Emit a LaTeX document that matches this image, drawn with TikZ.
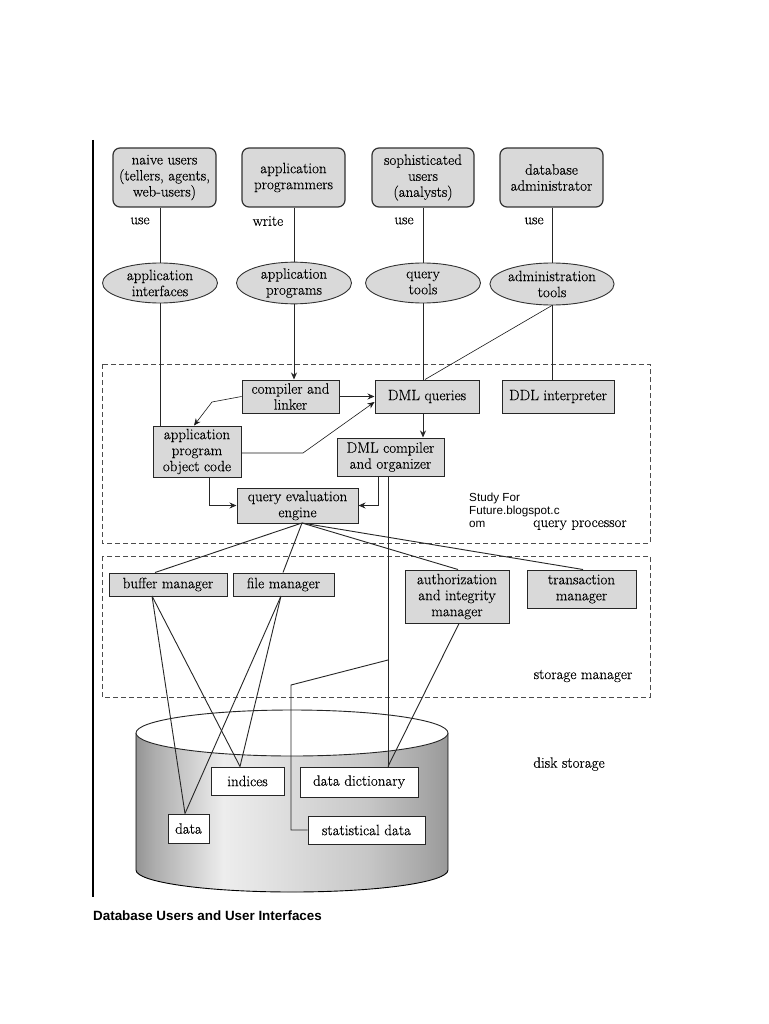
\documentclass[tikz,border=0pt]{standalone}
\usepackage{fontspec}
\setmainfont{Latin Modern Roman}[FakeBold=0.3]
\setsansfont{Liberation Sans}
\usetikzlibrary{shapes.geometric,arrows.meta}
\pgfdeclarehorizontalshading{cylsh}{100bp}{color(0bp)=(black!42); color(25bp)=(black!42); color(28bp)=(black!32); color(39bp)=(black!7); color(47bp)=(black!12); color(62bp)=(black!22); color(71bp)=(black!34); color(75bp)=(black!40); color(100bp)=(black!40)}
\tikzset{
  base/.style={font=\fontsize{15}{16}\selectfont, align=center, inner sep=1pt},
  user/.style={base, draw=black!80, line width=1.2pt, rounded corners=7pt, fill=black!15},
  tool/.style={base, ellipse, draw=black!80, line width=0.9pt, fill=black!15, inner sep=0pt},
  box/.style={base, rectangle, draw=black!85, line width=1pt, fill=black!15},
  store/.style={base, rectangle, draw=black!85, line width=1pt, fill=white},
  lbl/.style={font=\fontsize{15}{16}\selectfont, inner sep=0pt},
  wmark/.style={anchor=base west, inner sep=0pt, font=\sffamily\fontsize{11.7}{13.3}\selectfont},
  conn/.style={draw=black!85, line width=0.9pt},
  fine/.style={draw=black!90, line width=0.6pt},
  arr/.style={-{Stealth[length=7pt,width=6pt]}},
  region/.style={draw=black!70, line width=0.7pt, dash pattern=on 5pt off 3pt}
}
\begin{document}
\begin{tikzpicture}[x=1pt,y=1pt]
\fill[white] (0,0) rectangle (768,-1024);
\useasboundingbox (0,0) rectangle (768,-1024);

% left rule
\draw[line width=1.2pt] (93,-140) -- (93,-897);

% users
\node[user, minimum width=103pt, minimum height=59pt] (naive) at (164.5,-177.5) {naive users\\(tellers, agents,\\web-users)};
\node[user, minimum width=103pt, minimum height=59pt] (appprog) at (293.5,-177.5) {application\\programmers};
\node[user, minimum width=102pt, minimum height=59pt] (soph) at (423,-177.5) {sophisticated\\users\\(analysts)};
\node[user, minimum width=103pt, minimum height=59pt] (dba) at (551.5,-177.5) {database\\administrator};

% tools
\node[tool, minimum width=115pt, minimum height=40pt] (ai) at (160,-283) {application\\interfaces};
\node[tool, minimum width=115pt, minimum height=40pt] (ap) at (294,-283) {application\\programs};
\node[tool, minimum width=115pt, minimum height=40pt] (qt) at (423,-283) {query\\tools};
\node[tool, minimum width=117pt, minimum height=42pt] (at) at (552,-284) {administration\\tools};

\node[lbl] (use1) at (140,-221) {use};
\node[lbl] (write1) at (268,-221) {write};
\node[lbl] (use2) at (404,-221) {use};
\node[lbl] (use3) at (534,-221) {use};

% regions
\draw[region] (102,-364) rectangle (650,-543);
\draw[region] (102,-556) rectangle (650,-697);

% query processor
\node[box, minimum width=97pt, minimum height=33pt] (cl) at (290.5,-396.5) {compiler and\\linker};
\node[box, minimum width=104pt, minimum height=33pt] (dq) at (427,-396.5) {DML queries};
\node[box, minimum width=112pt, minimum height=33pt] (ddl) at (558,-396.5) {DDL interpreter};
\node[box, minimum width=88pt, minimum height=51pt] (apoc) at (197,-451.5) {application\\program\\object code};
\node[box, minimum width=107pt, minimum height=38pt] (dmlc) at (390.5,-457) {DML compiler\\and organizer};
\node[box, minimum width=121pt, minimum height=35pt] (qe) at (297.5,-505.5) {query evaluation\\engine};

\node[wmark] (wm1) at (469,-501) {Study For};
\node[wmark] (wm2) at (469,-514) {Future.blogspot.c};
\node[wmark] (wm3) at (469,-527) {om};
\node[lbl, anchor=base west] (qplbl) at (533,-527) {query processor};

% storage manager
\node[box, minimum width=118pt, minimum height=23pt] (bm) at (168,-584.5) {buffer manager};
\node[box, minimum width=101pt, minimum height=23pt] (fm) at (283.5,-584.5) {file manager};
\node[box, minimum width=104pt, minimum height=53pt] (aim) at (457,-596.5) {authorization\\and integrity\\manager};
\node[box, minimum width=109pt, minimum height=38pt] (tm) at (581.5,-589) {transaction\\manager};
\node[lbl] (smlbl) at (583,-676) {storage manager};

% disk
\shade[shading=cylsh] (136,-733) -- (136,-870) arc[start angle=180,end angle=360,x radius=156pt,y radius=22pt] -- (448,-733) arc[start angle=0,end angle=180,x radius=156pt,y radius=23pt] -- cycle;
\draw[line width=0.9pt] (136,-733) -- (136,-870) arc[start angle=180,end angle=360,x radius=156pt,y radius=22pt] -- (448,-733);
\filldraw[fill=white, draw=black!85, line width=0.9pt] (292,-733) ellipse[x radius=156pt, y radius=23pt];
\node[lbl] (dslbl) at (569,-764) {disk storage};

\node[store, minimum width=73pt, minimum height=28pt] (idx) at (247.5,-781) {indices};
\node[store, minimum width=118pt, minimum height=30pt] (dd) at (359,-782) {data dictionary};
\node[store, minimum width=41pt, minimum height=29pt] (data) at (188.5,-828.5) {data};
\node[store, minimum width=117pt, minimum height=28pt] (sd) at (366.5,-830) {statistical data};

% caption
\node[anchor=west, inner sep=0pt, font=\sffamily\bfseries\fontsize{13.4}{15}\selectfont] (cap) at (93,-916) {Database Users and User Interfaces};

% connectors: users to tools
\draw[conn] (ai.north |- naive.south) -- (ai.north);
\draw[conn] (ap.north |- appprog.south) -- (ap.north);
\draw[conn] (qt.north |- soph.south) -- (qt.north);
\draw[conn] (at.north |- dba.south) -- (at.north);

% tools to query processor
\draw[conn] (ai.south) -- (ai.south |- apoc.north);
\draw[conn, arr] (ap.south) -- (ap.south |- cl.north);
\draw[conn] (qt.south) -- (qt.south |- dq.north);
\draw[conn] (at.south) -- (at.south |- ddl.north);
\draw[fine] (at.south) -- ([xshift=-2pt]dq.north);

% inside query processor
\draw[conn, arr] (cl.east) -- (dq.west);
\coordinate (clbend) at (212,-402);
\draw[fine, arr] (cl.west) -- (clbend) -- ([xshift=-3pt]apoc.north);
\coordinate (apocbend) at (303,-453);
\draw[fine, arr] ([yshift=-1.5pt]apoc.east) -- (apocbend) -- ([yshift=-5.5pt]dq.west);
\draw[conn, arr] ([xshift=-4pt]dq.south) -- ([xshift=-4pt]dq.south |- dmlc.north);
\draw[conn, arr] ([xshift=12pt]apoc.south) |- (qe.west);
\draw[conn, arr] ([xshift=-12.5pt]dmlc.south) |- (qe.east);

% DML compiler to data dictionary and statistical data
\draw[conn] ([xshift=-2.5pt]dmlc.south) -- ([xshift=-2.5pt]dmlc.south |- dd.north);
\coordinate (sbranch) at (388,-660);
\coordinate (sbend) at (291,-685);
\draw[conn] (sbranch) -- (sbend) |- (sd.west);

% engine to storage manager
\coordinate (qeb) at (302,-523);
\draw[conn] (qeb) -- ([xshift=-13pt]bm.north);
\draw[conn] (qeb) -- ([xshift=-0.5pt]fm.north);
\draw[conn] (qeb) -- ([xshift=1pt]aim.north);
\draw[conn] (qeb) -- ([xshift=1.5pt]tm.north);

% storage manager to disk
\coordinate (bmb) at (152,-596);
\coordinate (fmb) at (281,-596);
\draw[conn] (bmb) -- ([xshift=-3.5pt]data.north);
\draw[conn] (bmb) -- ([xshift=-7.5pt]idx.north);
\draw[conn] (fmb) -- ([xshift=-3.5pt]data.north);
\draw[conn] (fmb) -- ([xshift=-7.5pt]idx.north);
\draw[conn] ([xshift=2pt]aim.south) -- ([xshift=29pt]dd.north);
\end{tikzpicture}
\end{document}
